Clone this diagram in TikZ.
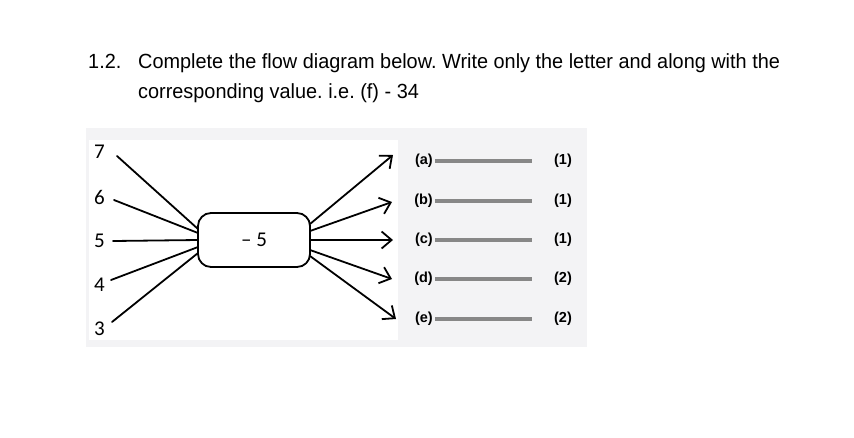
\documentclass[tikz,border=0pt]{standalone}
\usepackage{fontspec}
\setmainfont{Liberation Sans}
\newfontfamily\titlefont[FakeStretch=0.97]{Liberation Sans}
\newfontfamily\numfont{Carlito}
\usetikzlibrary{arrows.meta}
\definecolor{panelgray}{HTML}{F3F3F5}
\definecolor{bargray}{HTML}{878787}
\tikzset{
  titletext/.style={anchor=base west, inner sep=0pt, font=\titlefont\fontsize{20.5}{24}\selectfont},
  numlabel/.style={inner sep=0pt, font=\numfont\fontsize{21}{24}\selectfont},
  letterlabel/.style={inner sep=0pt, font=\bfseries\fontsize{14.5}{17}\selectfont},
  conn/.style={line width=1.8pt, line cap=round},
  arr/.style={conn, -{Straight Barb[length=10pt,width=17pt,line width=1.8pt]}},
  bar/.style={line width=4pt, bargray},
  opbox/.style={draw, line width=1.8pt, rounded corners=13pt, minimum width=112pt, minimum height=54pt, inner sep=0pt, font=\numfont\fontsize{21}{24}\selectfont}
}
\begin{document}
\frenchspacing
\begin{tikzpicture}[x=1pt,y=-1pt]
\useasboundingbox (0,0) rectangle (854,437);
\fill[white] (0,0) rectangle (854,437);
% title
\node[titletext] (t1) at (88,68.5) {1.2.};
\node[titletext] (t2) at (138,68.5) {Complete the flow diagram below. Write only the letter and along with the};
\node[titletext] (t3) at (138,98) {corresponding value. i.e. (f) - 34};
% panels
\fill[panelgray] (86,128) rectangle (587,347);
\fill[white] (89,140) rectangle (398,340);
% box
\node[opbox] (box) at (254,240) {– 5};
% left numbers
\node[numlabel] (n7) at (99.5,152) {7};
\node[numlabel] (n6) at (99.5,197) {6};
\node[numlabel] (n5) at (99.5,241) {5};
\node[numlabel] (n4) at (99.5,285) {4};
\node[numlabel] (n3) at (99.5,329) {3};
% left line endpoints
\coordinate (s7) at (117,156);
\coordinate (s6) at (114,200);
\coordinate (s5) at (113,241);
\coordinate (s4) at (111,280);
\coordinate (s3) at (112,322);
\coordinate (e7) at (198,229);
\coordinate (e6) at (198,233);
\coordinate (e5) at (198,240);
\coordinate (e4) at (198,247);
\coordinate (e3) at (198,253);
\draw[conn] (s7) -- (e7);
\draw[conn] (s6) -- (e6);
\draw[conn] (s5) -- (e5);
\draw[conn] (s4) -- (e4);
\draw[conn] (s3) -- (e3);
% right arrows
\coordinate (r1) at (310,224);
\coordinate (r2) at (310,231);
\coordinate (r3) at (310,240);
\coordinate (r4) at (310,250);
\coordinate (r5) at (310,256);
\coordinate (q1) at (393,155);
\coordinate (q2) at (392,202);
\coordinate (q3) at (393,240);
\coordinate (q4) at (392,279);
\coordinate (q5) at (396,319);
\draw[arr] (r1) -- (q1);
\draw[arr] (r2) -- (q2);
\draw[arr] (r3) -- (q3);
\draw[arr] (r4) -- (q4);
\draw[arr] (r5) -- (q5);
% right labels
\foreach \l/\v/\y in {a/1/161, b/1/201, c/1/240, d/2/279, e/2/319}{
  \node[letterlabel, anchor=east] (L\l) at (433,\y) {(\l)};
  \draw[bar] (435,\y) -- (532,\y);
  \node[letterlabel] (V\l) at (563,\y) {(\v)};
}
\end{tikzpicture}
\end{document}
